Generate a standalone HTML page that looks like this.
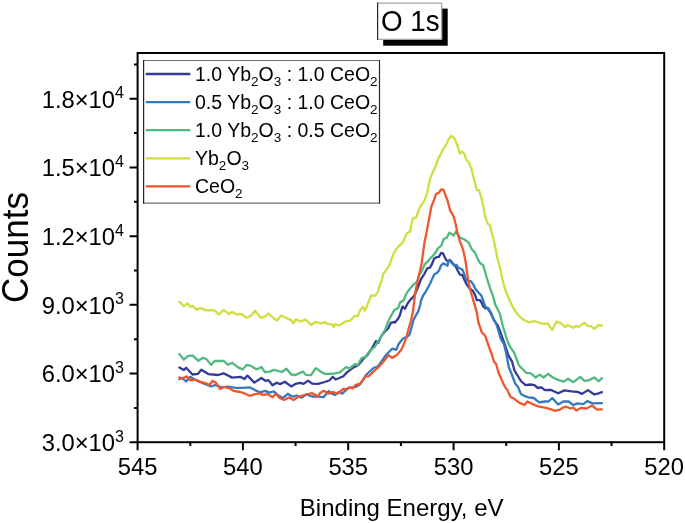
<!DOCTYPE html>
<html><head><meta charset="utf-8"><style>
html,body{margin:0;padding:0;background:#fff;}
body{width:685px;height:523px;overflow:hidden;}
svg{display:block;}
text{font-family:"Liberation Sans",Arial,sans-serif;fill:#000;}
</style></head><body>
<svg width="685" height="523" viewBox="0 0 685 523">
<rect x="0" y="0" width="685" height="523" fill="#fff"/>

<g fill="none" stroke-width="2.3" stroke-linejoin="round" stroke-linecap="round">
<path stroke="#343a98" d="M179.4,367.4 L183.8,370.1 L186.1,367.8 L192.5,374.5 L197.8,373.9 L201.3,369.8 L208.3,374.1 L218.2,375.0 L223.5,373.3 L232.2,377.6 L240.4,376.8 L244.5,379.1 L247.4,375.6 L254.4,382.6 L261.4,378.0 L265.5,380.9 L268.4,380.1 L272.5,385.3 L276.6,382.7 L280.1,384.1 L284.8,381.8 L291.2,386.4 L295.3,383.9 L300.5,382.9 L303.5,383.9 L308.1,380.6 L312.2,383.6 L318.1,383.9 L324.7,382.0 L329.3,380.5 L332.8,376.8 L335.5,379.5 L339.3,378.0 L343.4,376.2 L346.7,372.6 L352.5,368.0 L358.4,365.0 L363.0,359.2 L367.1,355.5 L371.2,349.3 L373.0,346.4 L375.9,341.1 L378.2,342.8 L381.1,336.4 L384.6,331.8 L388.1,328.5 L391.1,322.6 L394.6,322.0 L395.0,322.6 L398.1,318.8 L400.0,315.0 L401.9,308.1 L402.7,306.5 L404.9,308.8 L407.9,302.9 L411.0,299.1 L413.7,296.4 L415.6,292.9 L418.7,285.3 L421.0,279.2 L424.4,273.8 L427.3,268.3 L430.0,267.6 L432.3,263.4 L434.2,258.4 L436.5,257.2 L438.8,256.9 L441.1,253.0 L443.0,253.4 L444.5,256.5 L446.0,259.9 L448.0,261.4 L449.9,259.9 L452.5,263.0 L455.6,266.4 L457.9,271.0 L460.0,274.6 L462.3,274.9 L464.6,280.3 L466.9,284.9 L469.9,288.7 L473.0,291.0 L475.3,295.6 L476.8,300.2 L479.9,300.2 L481.5,302.5 L483.1,306.1 L485.4,308.4 L487.7,308.4 L490.7,313.0 L493.8,319.9 L497.6,325.2 L499.9,330.6 L502.2,337.5 L505.0,345.0 L508.5,355.5 L512.0,361.4 L514.5,370.5 L520.9,381.0 L525.6,385.1 L530.3,384.5 L534.4,385.1 L537.9,388.0 L541.4,387.4 L544.9,390.1 L550.5,389.8 L558.1,393.3 L564.5,390.4 L571.5,391.3 L577.4,391.8 L582.0,393.9 L587.9,390.1 L594.3,394.5 L598.4,393.3 L601.9,392.1"/>
<path stroke="#3478be" d="M179.4,379.1 L182.0,378.0 L186.1,381.5 L190.2,376.8 L194.9,379.7 L204.2,383.8 L211.2,386.5 L215.3,385.0 L221.7,387.3 L227.6,386.7 L235.7,387.9 L241.6,387.9 L249.7,387.3 L255.0,390.1 L259.7,392.3 L265.5,390.9 L269.0,392.6 L273.7,391.5 L278.4,395.5 L283.0,397.9 L287.7,393.8 L292.4,396.7 L296.5,395.5 L301.7,397.6 L306.4,394.4 L312.2,396.5 L318.6,396.7 L323.5,397.2 L326.4,393.7 L328.8,391.1 L331.7,393.7 L335.2,394.9 L338.7,391.9 L342.2,393.7 L345.7,390.2 L349.2,387.8 L352.7,387.3 L356.2,386.7 L360.7,383.7 L365.9,375.0 L373.5,368.0 L378.2,366.2 L386.4,354.5 L392.2,348.7 L396.3,349.9 L398.4,344.4 L402.7,338.7 L406.5,337.1 L409.5,334.8 L411.4,328.0 L413.4,320.3 L415.7,315.7 L418.0,311.9 L420.2,305.0 L421.0,300.6 L423.2,295.2 L425.0,293.0 L430.4,283.0 L432.6,277.9 L434.6,274.1 L436.9,272.9 L439.1,270.2 L441.1,265.3 L443.4,263.4 L445.6,264.5 L447.6,265.7 L448.0,262.2 L449.5,260.7 L451.8,263.0 L454.4,265.7 L456.4,264.9 L457.9,267.2 L460.0,268.4 L462.3,269.6 L463.8,272.7 L465.4,278.0 L467.7,281.1 L470.7,281.1 L473.0,284.1 L475.3,288.7 L478.4,292.5 L481.4,295.6 L483.1,300.5 L485.4,306.9 L488.4,308.4 L491.5,313.8 L493.8,319.9 L496.1,323.7 L498.0,329.1 L499.9,336.0 L501.0,339.4 L503.9,343.9 L506.2,353.2 L508.7,367.0 L511.6,374.0 L515.1,383.4 L518.0,386.9 L520.9,393.9 L525.0,396.2 L528.5,397.4 L533.8,398.0 L539.1,402.3 L544.9,401.5 L548.4,401.5 L552.3,398.0 L558.1,404.4 L563.4,401.5 L568.6,401.5 L573.3,405.0 L577.4,403.4 L583.2,404.1 L587.3,401.1 L592.6,403.4 L601.9,403.2"/>
<path stroke="#50b980" d="M179.4,354.0 L183.8,359.6 L187.8,356.1 L192.5,355.4 L198.4,360.8 L203.0,357.8 L206.5,359.3 L211.2,364.8 L214.7,361.0 L223.5,360.8 L228.1,364.8 L232.2,362.8 L238.1,367.4 L242.7,369.4 L246.8,364.8 L250.9,365.9 L255.0,368.5 L257.3,369.3 L261.4,366.9 L264.9,372.2 L269.6,371.6 L274.3,369.9 L281.9,372.0 L286.5,368.7 L291.2,374.5 L295.3,375.1 L298.8,373.4 L302.9,371.6 L305.8,374.8 L311.1,375.1 L315.7,368.1 L321.6,372.2 L325.1,373.9 L330.9,373.9 L335.0,373.4 L339.7,372.3 L346.1,367.1 L349.6,368.5 L354.9,364.1 L357.8,365.0 L361.3,358.6 L366.0,356.3 L370.0,350.8 L374.7,346.9 L379.4,339.3 L382.9,333.5 L385.2,329.6 L388.7,320.2 L393.4,311.5 L395.0,309.6 L398.1,308.1 L400.3,302.1 L403.4,300.6 L405.6,295.2 L407.2,292.2 L411.0,287.6 L414.1,284.1 L417.1,281.5 L419.4,274.6 L421.7,270.8 L425.0,264.1 L428.1,261.1 L431.1,257.6 L433.4,255.3 L435.7,252.3 L438.0,248.1 L439.9,246.9 L441.5,245.3 L443.7,239.0 L446.6,237.9 L449.5,232.6 L453.6,235.5 L455.9,231.5 L460.0,237.5 L464.7,239.7 L468.8,242.6 L471.7,249.1 L475.2,253.1 L478.1,259.6 L480.4,263.5 L483.0,265.0 L484.5,269.6 L486.4,276.5 L488.3,282.6 L490.6,289.5 L492.9,295.6 L495.3,304.6 L497.6,309.2 L499.9,313.8 L501.4,319.9 L503.0,326.8 L505.2,333.7 L506.8,339.4 L509.7,346.2 L514.4,353.2 L516.9,360.0 L519.2,365.8 L526.2,372.8 L530.9,373.4 L535.5,377.5 L539.6,374.6 L543.7,377.5 L548.2,373.8 L552.8,377.5 L558.7,380.1 L563.9,381.6 L568.0,378.7 L573.3,382.2 L580.3,376.9 L584.4,380.8 L589.1,380.1 L594.3,377.5 L599.0,381.3 L601.9,378.1"/>
<path stroke="#cfde40" d="M179.4,301.7 L183.8,306.1 L187.8,303.4 L190.2,306.9 L192.5,305.8 L196.6,309.6 L200.1,308.1 L203.0,308.9 L206.0,310.4 L213.5,310.1 L215.3,311.0 L218.8,314.5 L223.5,309.9 L228.7,313.9 L232.2,312.0 L236.3,314.5 L241.6,313.9 L246.2,317.8 L250.9,315.9 L255.0,310.8 L260.8,317.8 L265.5,316.3 L268.4,313.4 L272.5,317.1 L277.0,320.6 L281.3,315.5 L287.7,318.6 L291.2,320.1 L293.5,323.3 L295.9,319.4 L301.1,321.5 L305.2,319.4 L311.1,325.0 L315.7,321.8 L321.0,323.3 L325.1,322.1 L327.4,324.1 L331.5,324.1 L333.8,327.1 L335.0,324.0 L339.1,325.5 L342.0,323.7 L346.7,320.8 L350.2,320.8 L354.3,316.1 L357.8,316.1 L360.1,310.3 L363.0,306.8 L365.1,310.6 L367.7,303.9 L371.2,295.5 L375.3,295.7 L378.2,291.0 L379.4,286.4 L381.7,280.5 L383.0,274.4 L386.5,269.4 L389.5,264.8 L391.4,259.5 L393.7,253.4 L396.0,249.5 L398.7,246.1 L402.5,242.6 L404.1,239.6 L406.9,233.2 L410.1,231.5 L412.7,218.6 L416.2,217.4 L419.7,207.5 L423.8,201.7 L426.7,194.7 L430.2,178.5 L432.0,173.8 L436.1,165.0 L438.4,158.0 L440.0,155.8 L443.1,149.3 L446.6,143.8 L448.9,138.8 L451.5,135.8 L454.7,138.8 L457.5,145.8 L459.9,153.4 L462.2,151.7 L464.5,154.0 L466.3,159.9 L469.2,162.8 L471.5,169.2 L473.3,176.2 L475.0,183.2 L476.8,190.2 L479.1,190.2 L481.5,198.4 L483.4,207.0 L485.1,216.4 L487.4,223.4 L489.8,225.1 L491.5,231.5 L493.9,240.9 L495.6,249.1 L497.4,258.4 L500.3,269.3 L502.6,279.9 L505.0,289.2 L507.9,296.2 L511.4,304.4 L514.4,310.0 L517.9,314.7 L522.6,319.3 L528.4,322.3 L534.2,321.1 L540.1,322.8 L543.6,324.0 L547.6,323.4 L552.3,330.1 L556.4,321.6 L561.0,323.4 L565.1,326.9 L568.0,325.1 L573.3,327.8 L576.2,325.9 L578.5,327.1 L584.4,322.8 L587.9,325.9 L591.4,326.3 L594.3,329.0 L598.4,325.1 L601.9,325.5"/>
<path stroke="#ee562e" d="M179.4,377.4 L182.0,378.5 L186.7,376.4 L190.2,380.3 L196.0,379.7 L200.7,382.0 L205.4,383.0 L209.5,385.0 L212.4,380.9 L215.9,382.6 L220.0,389.0 L224.0,387.0 L228.7,388.1 L233.4,390.8 L240.4,392.0 L245.0,393.7 L249.7,395.8 L255.0,394.2 L259.7,393.4 L263.2,395.0 L267.8,394.1 L272.5,397.3 L276.0,393.8 L279.5,397.9 L284.2,400.0 L288.9,397.6 L293.5,400.0 L297.6,397.3 L304.0,395.0 L312.2,393.2 L318.1,396.5 L320.0,393.1 L323.5,390.8 L328.8,393.7 L332.3,391.9 L337.5,393.7 L343.4,389.0 L346.9,389.0 L349.2,387.3 L352.7,388.4 L355.6,384.9 L360.0,383.8 L365.4,376.7 L368.9,376.1 L373.5,371.5 L378.2,367.4 L383.5,361.5 L388.7,355.1 L392.2,357.8 L396.9,355.1 L401.6,349.3 L403.8,344.4 L406.5,337.1 L408.8,328.0 L411.1,320.3 L413.0,311.1 L415.2,292.9 L417.1,283.8 L418.7,276.1 L420.2,270.0 L421.6,263.4 L424.5,242.3 L426.1,234.4 L427.9,225.0 L431.4,206.4 L434.0,200.2 L436.3,193.6 L438.6,193.1 L441.2,189.3 L443.5,189.9 L445.5,195.4 L447.2,199.7 L448.6,204.3 L450.1,210.4 L453.6,216.3 L455.9,225.0 L457.7,234.4 L460.0,241.5 L462.9,249.1 L464.8,257.5 L466.1,265.0 L467.3,274.2 L468.4,281.8 L469.9,288.7 L471.5,294.1 L473.0,299.4 L474.5,304.4 L476.9,312.6 L478.2,321.7 L481.7,332.2 L485.2,335.7 L488.7,346.2 L490.0,349.5 L492.2,355.5 L493.9,361.4 L496.3,364.3 L498.2,371.7 L501.7,379.9 L504.6,386.3 L507.5,390.4 L510.4,396.8 L514.5,399.1 L519.2,402.6 L524.5,405.0 L527.4,401.5 L533.2,404.4 L539.1,406.7 L544.7,407.6 L550.5,409.1 L554.7,410.8 L559.9,409.6 L563.6,407.3 L566.3,406.7 L570.4,408.5 L573.3,407.6 L576.2,410.5 L580.9,407.9 L586.7,408.5 L592.0,405.5 L597.2,409.6 L601.9,409.3"/>
</g>
<rect x="137.6" y="53.0" width="526.6" height="389.2" fill="none" stroke="#000" stroke-width="2"/>
<path d="M137.6,442.2V450.2 M190.3,442.2V446.0 M242.9,442.2V450.2 M295.6,442.2V446.0 M348.2,442.2V450.2 M400.9,442.2V446.0 M453.6,442.2V450.2 M506.2,442.2V446.0 M558.9,442.2V450.2 M611.5,442.2V446.0 M664.2,442.2V450.2 M137.6,442.2H129.6 M137.6,407.9H134.0 M137.6,373.5H129.6 M137.6,339.2H134.0 M137.6,304.8H129.6 M137.6,270.5H134.0 M137.6,236.2H129.6 M137.6,201.8H134.0 M137.6,167.5H129.6 M137.6,133.1H134.0 M137.6,98.8H129.6 M137.6,64.4H134.0" stroke="#000" stroke-width="2" fill="none"/>
<text transform="translate(137.60,474.70) scale(1,1.000)" font-size="23.8" text-anchor="middle">545</text>
<text transform="translate(242.92,474.70) scale(1,1.000)" font-size="23.8" text-anchor="middle">540</text>
<text transform="translate(348.24,474.70) scale(1,1.000)" font-size="23.8" text-anchor="middle">535</text>
<text transform="translate(453.56,474.70) scale(1,1.000)" font-size="23.8" text-anchor="middle">530</text>
<text transform="translate(558.88,474.70) scale(1,1.000)" font-size="23.8" text-anchor="middle">525</text>
<text transform="translate(664.20,474.70) scale(1,1.000)" font-size="23.8" text-anchor="middle">520</text>
<text transform="translate(124.00,451.00) scale(1,1.000)" font-size="23.8" text-anchor="end">3.0×10<tspan font-size="16" dy="-9.2">3</tspan></text>
<text transform="translate(124.00,382.32) scale(1,1.000)" font-size="23.8" text-anchor="end">6.0×10<tspan font-size="16" dy="-9.2">3</tspan></text>
<text transform="translate(124.00,313.64) scale(1,1.000)" font-size="23.8" text-anchor="end">9.0×10<tspan font-size="16" dy="-9.2">3</tspan></text>
<text transform="translate(124.00,244.95) scale(1,1.000)" font-size="23.8" text-anchor="end">1.2×10<tspan font-size="16" dy="-9.2">4</tspan></text>
<text transform="translate(124.00,176.27) scale(1,1.000)" font-size="23.8" text-anchor="end">1.5×10<tspan font-size="16" dy="-9.2">4</tspan></text>
<text transform="translate(124.00,107.59) scale(1,1.000)" font-size="23.8" text-anchor="end">1.8×10<tspan font-size="16" dy="-9.2">4</tspan></text>
<text transform="translate(401.70,516.00) scale(1,1.000)" font-size="24" text-anchor="middle">Binding Energy, eV</text>
<text transform="translate(28.30,247.50) rotate(-90) scale(1,1.050)" font-size="35" text-anchor="middle">Counts</text>
<rect x="383.2" y="8.6" width="64.5" height="37.1" fill="#000"/>
<rect x="377.2" y="2.4" width="64.9" height="37.4" fill="#fff"/>
<path d="M377.2,3.1H442.1 M441.6,3.1V39.3 M377.2,39.3H441.6" stroke="#a5a5a5" stroke-width="1.3" fill="none"/>
<path d="M377.6,2.6V39.8" stroke="#2a2a2a" stroke-width="1.2" fill="none"/>
<text transform="translate(381.00,30.90) scale(1,1.035)" font-size="27.8">O 1s</text>
<rect x="143.6" y="60.5" width="235.9" height="142.7" fill="#fff"/>
<path d="M143.6,60.5H379.5 M143.6,203.2H379.5" stroke="#6e6e6e" stroke-width="1.2" fill="none"/>
<path d="M143.6,59.9V203.8 M379.5,59.9V203.8" stroke="#262626" stroke-width="1.2" fill="none"/>
<line x1="145.7" x2="190.3" y1="74.00" y2="74.00" stroke="#343a98" stroke-width="2.3"/>
<text transform="translate(195.00,80.60) scale(1,1.000)" font-size="19.5" xml:space="preserve">1.0 Yb<tspan font-size="13.5" dy="5">2</tspan><tspan font-size="19.5" dy="-5">O</tspan><tspan font-size="13.5" dy="5">3</tspan><tspan font-size="19.5" dy="-5"> : 1.0 CeO</tspan><tspan font-size="13.5" dy="5">2</tspan></text>
<line x1="145.7" x2="190.3" y1="102.05" y2="102.05" stroke="#3478be" stroke-width="2.3"/>
<text transform="translate(195.00,108.65) scale(1,1.000)" font-size="19.5" xml:space="preserve">0.5 Yb<tspan font-size="13.5" dy="5">2</tspan><tspan font-size="19.5" dy="-5">O</tspan><tspan font-size="13.5" dy="5">3</tspan><tspan font-size="19.5" dy="-5"> : 1.0 CeO</tspan><tspan font-size="13.5" dy="5">2</tspan></text>
<line x1="145.7" x2="190.3" y1="130.20" y2="130.20" stroke="#50b980" stroke-width="2.3"/>
<text transform="translate(195.00,136.80) scale(1,1.000)" font-size="19.5" xml:space="preserve">1.0 Yb<tspan font-size="13.5" dy="5">2</tspan><tspan font-size="19.5" dy="-5">O</tspan><tspan font-size="13.5" dy="5">3</tspan><tspan font-size="19.5" dy="-5"> : 0.5 CeO</tspan><tspan font-size="13.5" dy="5">2</tspan></text>
<line x1="145.7" x2="190.3" y1="158.40" y2="158.40" stroke="#cfde40" stroke-width="2.3"/>
<text transform="translate(195.00,165.00) scale(1,1.000)" font-size="19.5" xml:space="preserve">Yb<tspan font-size="13.5" dy="5">2</tspan><tspan font-size="19.5" dy="-5">O</tspan><tspan font-size="13.5" dy="5">3</tspan></text>
<line x1="145.7" x2="190.3" y1="186.40" y2="186.40" stroke="#ee562e" stroke-width="2.3"/>
<text transform="translate(195.00,193.00) scale(1,1.000)" font-size="19.5" xml:space="preserve">CeO<tspan font-size="13.5" dy="5">2</tspan></text>
</svg></body></html>
